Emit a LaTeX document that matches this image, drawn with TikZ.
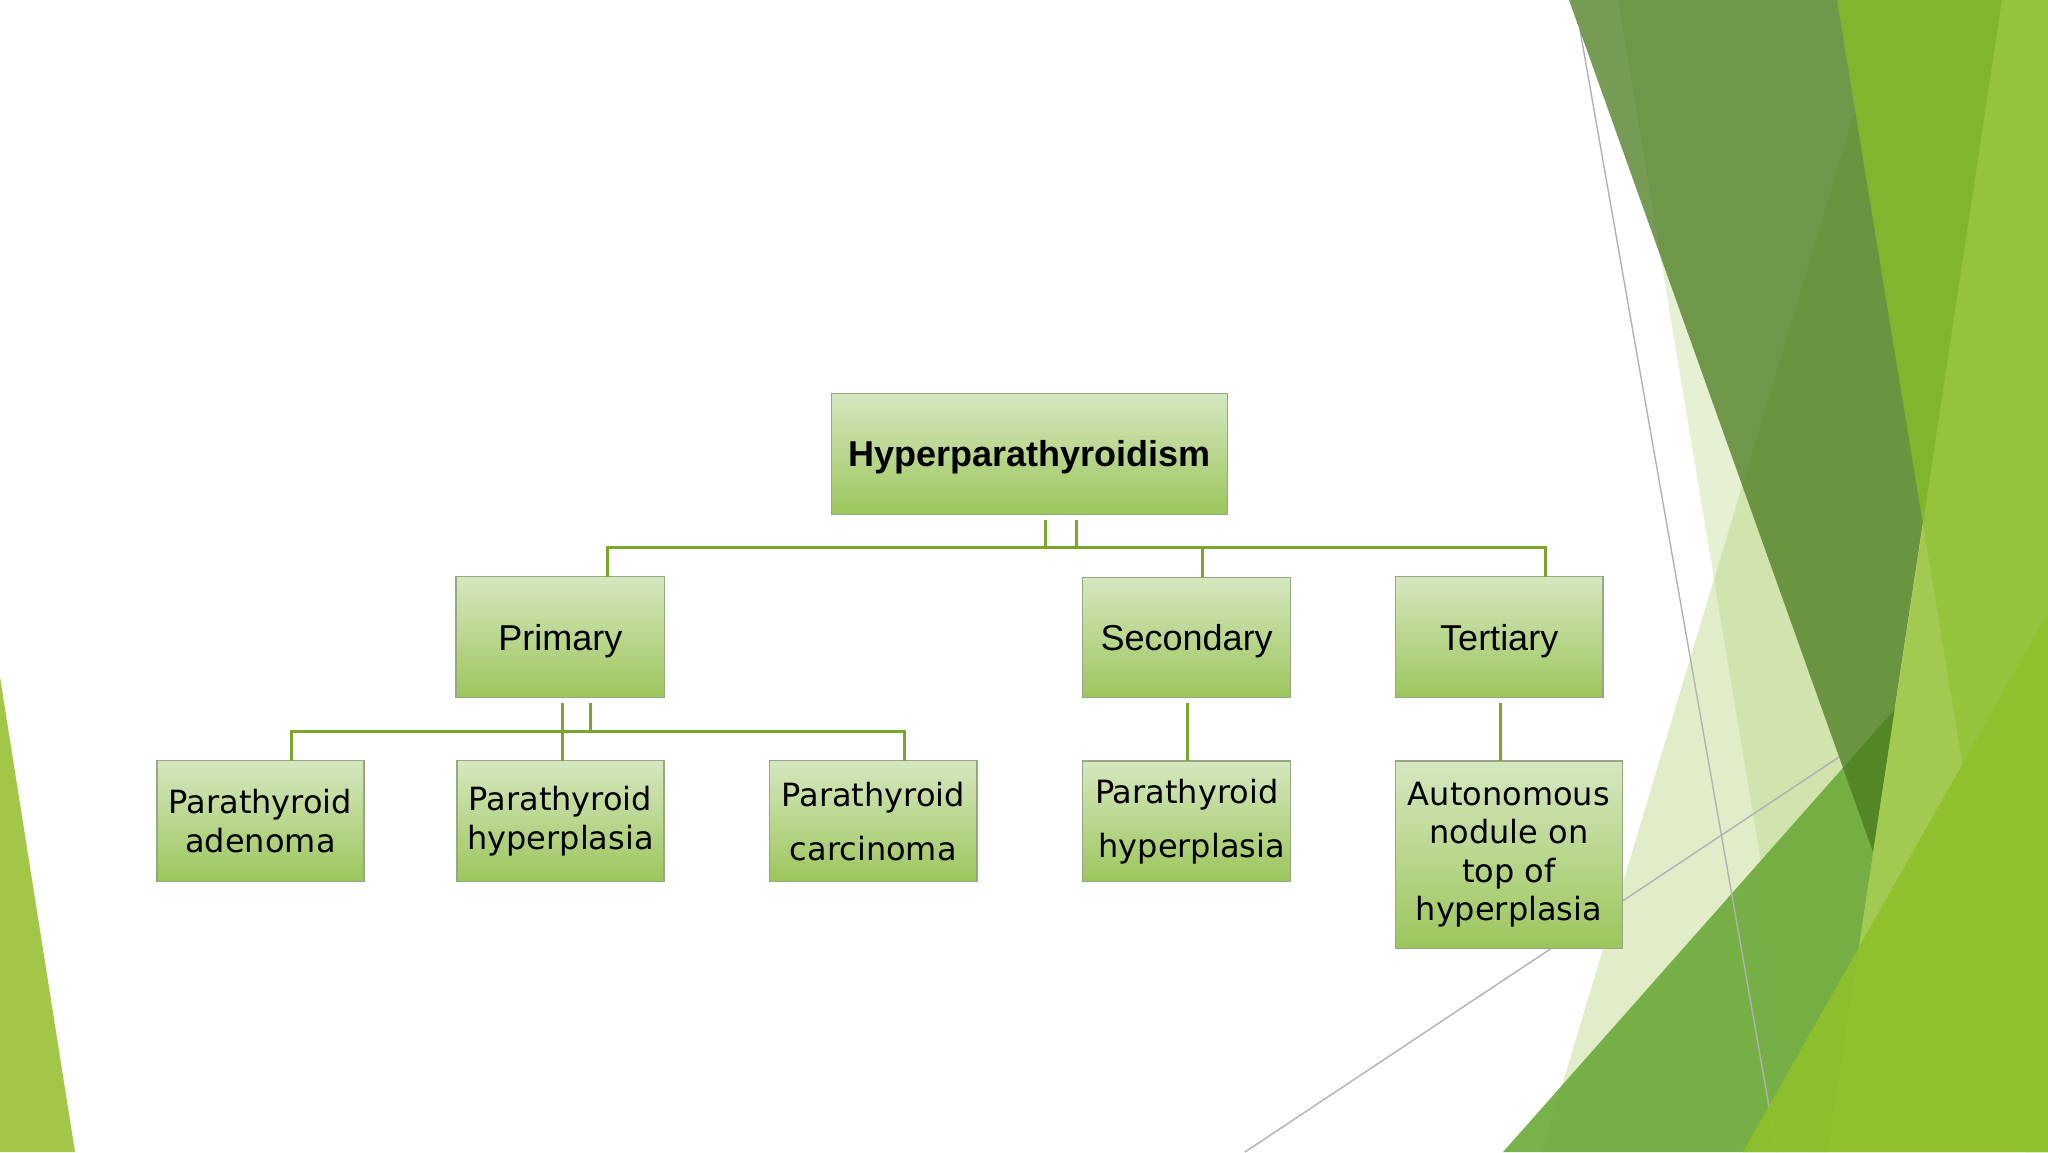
\documentclass[tikz,border=0pt]{standalone}
\usepackage{fontspec}
\setmainfont{Liberation Sans}
\newfontfamily\lowfont{DejaVu Sans}
\definecolor{leftgreen}{RGB}{162,198,72}
\definecolor{tonecol}{RGB}{230,240,210}
\definecolor{ttwocol}{RGB}{180,210,118}
\definecolor{gonecol}{RGB}{107,169,55}
\definecolor{pcol}{RGB}{72,122,28}
\definecolor{qcol}{RGB}{130,180,45}
\definecolor{scol}{RGB}{154,198,63}
\definecolor{gtwocol}{RGB}{144,192,44}
\definecolor{decoline}{RGB}{178,178,178}
\definecolor{boxedge}{RGB}{150,168,130}
\definecolor{boxtop}{RGB}{214,231,192}
\definecolor{boxbot}{RGB}{156,198,92}
\definecolor{connc}{RGB}{122,166,44}
\begin{document}
\begin{tikzpicture}[x=1pt,y=-1pt,
  box/.style={draw=boxedge, line width=1.2pt, top color=boxtop, bottom color=boxbot,
              inner sep=0pt, outer sep=0pt, align=center, text=black},
  conn/.style={draw=connc, line width=3pt},
  deco/.style={draw=decoline, line width=1.4pt},
  toptext/.style={font=\fontsize{36}{43}\selectfont\bfseries, text depth=0pt},
  midtext/.style={font=\fontsize{36}{43}\selectfont, text depth=0pt},
  lowtext/.style={font=\lowfont\fontsize{32}{38.4}\selectfont},
  widelow/.style={font=\lowfont\fontsize{32}{54}\selectfont}]
\useasboundingbox (0,0) rectangle (2048,1152);
% background
\fill[white] (0,0) rectangle (2048,1152);
\fill[leftgreen] (0,677) -- (75,1152) -- (0,1152) -- cycle;
\fill[tonecol] (1618,0) -- (1837,0) -- (2026,1152) -- (1809,1152) -- cycle;
\fill[ttwocol, fill opacity=0.4] (1855,110) -- (2026,1152) -- (1542,1152) -- cycle;
\fill[gonecol, fill opacity=0.9] (1503,1152) -- (1895,709) -- (1828,1152) -- cycle;
\draw[deco] (1580,30) -- (1777,1152);
\draw[deco] (1245,1152) -- (1839,757);
\fill[pcol, fill opacity=0.75] (1569,0) -- (2002,0) -- (1873,852) -- cycle;
\fill[qcol] (1837,0) -- (2048,0) -- (2048,1152) -- (2026,1152) -- cycle;
\fill[scol, fill opacity=0.84] (2002,0) -- (2048,0) -- (2048,1152) -- (1828,1152) -- cycle;
\fill[gtwocol, fill opacity=0.92] (1743,1152) -- (2048,613) -- (2048,1152) -- cycle;
% nodes
\node[box, toptext, minimum width=395.6pt, minimum height=121pt] (top) at (1029.5,453.8) {Hyperparathyroidism};
\node[box, midtext, minimum width=208.6pt, minimum height=120.6pt] (primary) at (560.3,637) {Primary};
\node[box, midtext, minimum width=208pt, minimum height=120.4pt] (secondary) at (1186.7,637.5) {Secondary};
\node[box, midtext, minimum width=207.5pt, minimum height=121pt] (tertiary) at (1499.2,637.2) {Tertiary};
\node[box, lowtext, minimum width=207pt, minimum height=121pt] (adenoma) at (260.5,821.2) {Parathyroid\\adenoma};
\node[box, lowtext, minimum width=207pt, minimum height=121pt] (hyper) at (560.5,821.2) {Parathyroid\\hyperplasia};
\node[box, widelow, minimum width=207.3pt, minimum height=121pt] (carci) at (873.3,821.2) {Parathyroid\\carcinoma};
\node[box, widelow, minimum width=208pt, minimum height=120.7pt] (sechyp) at (1186.7,821.3) {Parathyroid\\\hspace*{10pt}hyperplasia};
\node[box, lowtext, minimum width=226.8pt, minimum height=187.3pt] (auto) at (1508.9,854.6) {Autonomous\\nodule on\\top of\\hyperplasia};
% connectors
\coordinate (tA) at (1045.7,520);
\coordinate (tB) at (1076,520);
\coordinate (barL) at (607.2,547);
\coordinate (barS) at (1202,547);
\coordinate (barR) at (1545.7,547);
\draw[conn] (tA) -- (tA |- barL);
\draw[conn] (tB) -- (tB |- barL);
\draw[conn] (primary.north -| barL) -- (barL) -- (barR) -- (tertiary.north -| barR);
\draw[conn] (barS) -- (secondary.north -| barS);
\coordinate (pA) at (562.5,703.3);
\coordinate (pB) at (590.4,703.3);
\coordinate (lbarL) at (291,731.7);
\coordinate (lbarR) at (904.6,731.7);
\draw[conn] (pA) -- (hyper.north -| pA);
\draw[conn] (pB) -- (pB |- lbarL);
\draw[conn] (adenoma.north -| lbarL) -- (lbarL) -- (lbarR) -- (carci.north -| lbarR);
\coordinate (sA) at (1187.7,703.3);
\draw[conn] (sA) -- (sechyp.north -| sA);
\coordinate (tC) at (1500.6,703.3);
\draw[conn] (tC) -- (auto.north -| tC);
\end{tikzpicture}
\end{document}
